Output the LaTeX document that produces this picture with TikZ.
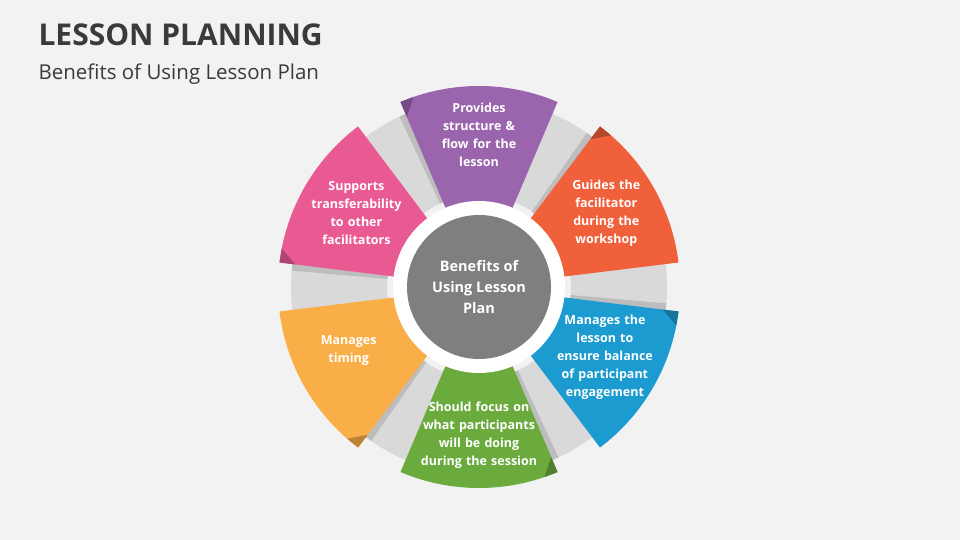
\documentclass[tikz,border=0pt]{standalone}
\usepackage{fontspec}
\setmainfont{Open Sans}
\usetikzlibrary{calc}
\definecolor{bg}{HTML}{F2F2F2}
\definecolor{cpur}{HTML}{9B65AE}
\definecolor{cora}{HTML}{F0603A}
\definecolor{cblu}{HTML}{1B9BD0}
\definecolor{cgre}{HTML}{6BAA3D}
\definecolor{cyel}{HTML}{F9AE48}
\definecolor{cpin}{HTML}{E95A93}
\definecolor{gapg}{HTML}{D9D9D9}
\definecolor{gapd}{HTML}{BDBDBD}
\definecolor{ctr}{HTML}{7F7F7F}
\definecolor{ttl}{HTML}{3A3A3A}
\tikzset{seglabel/.style={text=white,align=center,font=\fontsize{12.5}{18}\selectfont\bfseries,text width=140pt}}
\begin{document}
\begin{tikzpicture}[x=1pt,y=1pt]
\fill[bg] (0,0) rectangle (960,540);
\useasboundingbox (0,0) rectangle (960,540);
\node[anchor=west,text=ttl,font=\fontsize{30}{34}\selectfont\bfseries] (title) at (35,505) {LESSON PLANNING};
\node[anchor=west,text=ttl,font=\fontsize{20.5}{24}\selectfont] (sub) at (35,466) {Benefits of Using Lesson Plan};
\coordinate (c) at (479,253);
% gaps
\foreach \g in {0,60,120,180,240,300}{
  \fill[gapg,shift={(c)}] (\g-9:92pt) arc[start angle=\g-9,end angle=\g+9,radius=92pt] -- (\g+9:188pt) arc[start angle=\g+9,end angle=\g-9,radius=188pt] -- cycle;
  \fill[gapd,shift={(c)}] (\g-9:92pt) -- (\g-9:188pt) -- (\g-5:188pt) -- (\g-5:92pt) -- cycle;
}
% segments
\foreach \m/\col in {90/cpur,30/cora,-30/cblu,-90/cgre,-150/cyel,150/cpin}{
  \fill[\col,shift={(c)}] (\m-23:85pt) arc[start angle=\m-23,end angle=\m+23,radius=85pt] -- (\m+23:201pt) arc[start angle=\m+23,end angle=\m-23,radius=201pt] -- cycle;
  \fill[\col!75!black,shift={(c)}] (\m+23:201pt) -- (\m+23:185pt) -- (\m+19:201pt) -- cycle;
}
\fill[white] (c) circle (86pt);
\node[circle,fill=ctr,minimum size=144pt,text=white,align=center,font=\fontsize{14.5}{21}\selectfont\bfseries] (center) at (c) {Benefits of\\Using Lesson\\Plan};
\node[seglabel] (t1) at ($(c)+(90:152pt)$) {Provides\\structure \&\\flow for the\\lesson};
\node[seglabel] (t2) at ($(c)+(30:147pt)$) {Guides the\\facilitator\\during the\\workshop};
\node[seglabel] (t3) at ($(c)+(-29:144pt)$) {Manages the\\lesson to\\ensure balance\\of participant\\engagement};
\node[seglabel] (t4) at ($(c)+(-90:148pt)$) {Should focus on\\what participants\\will be doing\\during the session};
\node[seglabel] (t5) at ($(c)+(-154:145pt)$) {Manages\\timing};
\node[seglabel] (t6) at ($(c)+(149:143pt)$) {Supports\\transferability\\to other\\facilitators};
\end{tikzpicture}
\end{document}
